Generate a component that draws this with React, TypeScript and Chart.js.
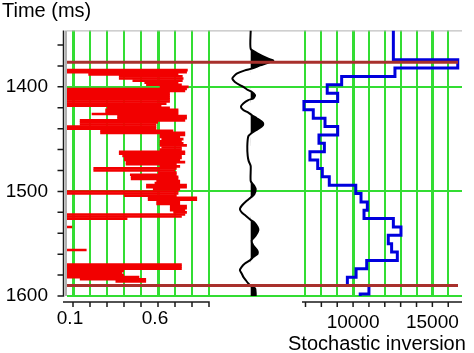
import React, { useEffect, useRef } from 'react';
import { Chart, registerables } from 'chart.js';

Chart.register(...registerables);

const FONT = '"Liberation Sans", Arial, Helvetica, sans-serif';
const GREEN = '#33dd33';
const RED = '#f20000';
const BLUE = '#0000dd';
const HORIZON = '#a8302c';

// ---- Time axis (ms) ----
const yTicks = [1360, 1380, 1400, 1420, 1440, 1460, 1480, 1500, 1520, 1540, 1560, 1580, 1600];
const yLabelled = [1400, 1500, 1600];
const horizons = [1376.5, 1590];

// ---- Left panel ----
const xLTicks = [0.1, 0.2, 0.3, 0.4, 0.5, 0.6, 0.7, 0.8, 0.9];
const xLLabelled = [0.1, 0.6];

// ---- Right panel (Stochastic inversion) ----
const xRTicks = [7000, 8000, 9000, 10000, 11000, 12000, 13000, 14000, 15000, 16000];
const xRLabelled = [10000, 15000];

// Red floating bars: time, start, end
const redTimes = [
  1384, 1386, 1388, 1390, 1392, 1394, 1396, 1398, 1400, 1402,
  1404, 1406, 1408, 1410, 1412, 1414, 1416, 1418, 1420, 1422,
  1424, 1426, 1428, 1430, 1432, 1434, 1436, 1438, 1440, 1442,
  1444, 1446, 1448, 1450, 1452, 1454, 1456, 1458, 1460, 1462,
  1464, 1466, 1468, 1470, 1472, 1474, 1476, 1478, 1480, 1482,
  1484, 1486, 1488, 1490, 1492, 1494, 1496, 1498, 1500, 1502,
  1504, 1506, 1508, 1510, 1512, 1514, 1516, 1518, 1520, 1522,
  1524, 1526, 1528, 1530, 1532, 1534, 1536, 1538, 1540, 1542,
  1544, 1546, 1548, 1550, 1552, 1554, 1556, 1558, 1560, 1562,
  1564, 1566, 1568, 1570, 1572, 1574, 1576, 1578, 1580, 1582,
  1584, 1586,
];
const redLow = [
  0, 0, 0.19, 0.37, 0.37, 0.45, 0.52, 0.53, 0.61, 0,
  0, 0, 0, 0, 0, 0, 0, 0, 0.3, 0.29,
  0.29, 0.21, 0.36, 0.36, 0.14, 0.14, 0.14, 0, 0, 0.26,
  0.26, 0.61, 0.61, 0.62, 0.61, 0.61, 0.61, 0.62, 0.61, 0.37,
  0.37, 0.39, 0.4, 0.4, 0.41, 0.41, 0.61, 0.22, 0.22, 0.6,
  0.435, 0.44, 0.44, 0.59, 0.58, 0.53, 0.53, 0.57, 0, 0,
  0.4, 0.54, 0.54, 0.59, 0.59, 0.67, 0.67, 0.67, 0.69, 0,
  0, 0, null, null, null, 0, null, null, null, null,
  null, null, null, null, null, null, 0, null, null, null,
  null, null, null, 0, 0, 0, 0, 0, 0, 0,
  0.14, 0.35,
];
const redHigh = [
  0.775, 0.77, 0.72, 0.745, 0.75, 0.745, 0.72, 0.74, 0.78, 0.77,
  0.76, 0.67, 0.67, 0.67, 0.67, 0.67, 0.65, 0.62, 0.67, 0.72,
  0.72, 0.72, 0.77, 0.77, 0.76, 0.6, 0.59, 0.59, 0.59, 0.69,
  0.76, 0.76, 0.73, 0.75, 0.74, 0.75, 0.77, 0.74, 0.74, 0.76,
  0.76, 0.74, 0.74, 0.73, 0.76, 0.71, 0.73, 0.71, 0.7, 0.71,
  0.71, 0.72, 0.72, 0.73, 0.73, 0.77, 0.77, 0.73, 0.72, 0.72,
  0.71, 0.83, 0.83, 0.73, 0.73, 0.77, 0.77, 0.76, 0.77, 0.76,
  0.74, 0.42, null, null, null, 0.095, null, null, null, null,
  null, null, null, null, null, null, 0.18, null, null, null,
  null, null, null, 0.74, 0.74, 0.74, 0.4, 0.39, 0.4, 0.49,
  0.53, 0.53,
];

// Seismic trace (wiggle): time, amplitude
const traceTimes = [
  1346, 1363.7, 1368.4, 1373.1, 1374.7, 1376.3, 1379.5, 1382.6, 1384.2, 1387.4,
  1390.5, 1392.1, 1395.3, 1398.4, 1400, 1403.2, 1404.7, 1407.9, 1411.1, 1412.6,
  1415.8, 1419, 1422.1, 1424.6, 1426.9, 1430, 1433.2, 1435.4, 1437.9, 1441.1,
  1444.2, 1447.4, 1456.9, 1466, 1471, 1475.8, 1490, 1494.8, 1497.9, 1502.7,
  1505.9, 1509, 1513.7, 1516.9, 1520.1, 1523.2, 1527.3, 1529.6, 1534.3, 1537.4,
  1542.2, 1546.9, 1551.7, 1556.4, 1559.5, 1562.7, 1565.9, 1569, 1572.2, 1575.4,
  1578.5, 1581.7, 1584.8, 1588, 1591.2, 1592.7, 1597.4, 1600,
];
const traceAmp = [
  0, 0, 0.38, 0.88, 1.13, 0.97, 0.47, 0.05, -0.29, -0.7,
  -0.87, -0.92, -0.79, -0.54, -0.37, -0.12, 0.05, 0.22, 0.13, -0.12,
  -0.37, -0.49, -0.37, -0.12, 0.05, 0.3, 0.55, 0.63, 0.55, 0.3,
  0.05, -0.12, -0.17, -0.15, -0.1, 0, 0, 0.18, 0.25, 0.18,
  0, -0.2, -0.45, -0.54, -0.45, -0.25, 0, 0.18, 0.35, 0.38,
  0.25, 0.05, 0.13, 0.33, 0.35, 0.13, -0.04, -0.29, -0.45, -0.54,
  -0.45, -0.37, -0.25, -0.12, 0.05, 0.22, 0.25, 0.25,
];

// Blocky stochastic inversion log: layer boundaries (ms) and values
const blueBounds = [
  1346, 1374, 1382, 1390, 1398, 1406, 1414, 1422, 1430, 1438, 1446,
  1454, 1462, 1470, 1478, 1486, 1494, 1502, 1510, 1518, 1526,
  1534, 1542, 1550, 1558, 1566, 1574, 1582, 1590, 1598, 1600,
];
const blueValues = [
  12540, 16600, 12640, 9280, 8370, 9030, 6900, 7490, 8230, 9030,
  7850, 8190, 7280, 7770, 8060, 8500, 10170, 10500, 10900, 10690,
  12540, 13020, 12220, 12430, 12790, 10860, 10190, 9640, 11000, 10450,
];

// scale windows so the three panels share one plot area
const XL_MIN = 0.0647, XL_MAX = 2.3882;
const XM_MIN = -9.185, XM_MAX = 10.565;
const XR_MIN = -8038, XR_MAX = 16868;

const decor = {
  id: 'decor',
  afterLayout(chart: any) {
    // both bottom axes share the same band below the plot
    const { xL, xR } = chart.scales;
    xR.top = xL.top;
    xR.bottom = xL.bottom;
    xR.height = xL.height;
  },
  beforeDatasetsDraw(chart: any) {
    const { ctx, chartArea: a } = chart;
    ctx.save();
    ctx.strokeStyle = '#b0b0b0';
    ctx.lineWidth = 2;
    ctx.beginPath();
    ctx.moveTo(a.left - 1, a.top);
    ctx.lineTo(a.left - 1, a.bottom);
    ctx.stroke();
    ctx.lineWidth = 1;
    ctx.beginPath();
    ctx.moveTo(a.left, a.top + 0.5);
    ctx.lineTo(a.right, a.top + 0.5);
    ctx.stroke();
    ctx.restore();
  },
  afterDatasetsDraw(chart: any) {
    const { ctx, chartArea: a, scales } = chart;
    ctx.save();
    ctx.strokeStyle = HORIZON;
    ctx.lineWidth = 3;
    for (const h of horizons) {
      const py = scales.y.getPixelForValue(h);
      ctx.beginPath();
      ctx.moveTo(a.left, py);
      ctx.lineTo(a.right - 4, py);
      ctx.stroke();
    }
    ctx.restore();
  },
  afterDraw(chart: any) {
    const { ctx, chartArea: a, scales } = chart;
    const y = scales.y, xL = scales.xL, xR = scales.xR;
    ctx.save();
    ctx.strokeStyle = '#1a1a1a';
    ctx.lineWidth = 1.5;
    // time axis
    const ax = a.left - 3.5;
    ctx.beginPath();
    ctx.moveTo(ax, a.top);
    ctx.lineTo(ax, a.bottom + 0.75);
    for (const v of yTicks) {
      const py = y.getPixelForValue(v);
      ctx.moveTo(ax - 6, py);
      ctx.lineTo(ax, py);
    }
    ctx.stroke();
    // bottom axes
    const ay = a.bottom + 6;
    ctx.beginPath();
    ctx.moveTo(xL.getPixelForValue(xLTicks[0]) - 10, ay);
    ctx.lineTo(xL.getPixelForValue(xLTicks[xLTicks.length - 1]) + 0.75, ay);
    for (const v of xLTicks) {
      const px = xL.getPixelForValue(v);
      ctx.moveTo(px, ay);
      ctx.lineTo(px, ay + 5);
    }
    ctx.moveTo(xR.getPixelForValue(xRTicks[0]) - 3.5, ay);
    ctx.lineTo(a.right, ay);
    for (const v of xRTicks) {
      const px = xR.getPixelForValue(v);
      ctx.moveTo(px, ay);
      ctx.lineTo(px, ay + 5);
    }
    ctx.stroke();
    // titles
    ctx.fillStyle = '#000';
    ctx.font = `20px ${FONT}`;
    ctx.textAlign = 'left';
    ctx.textBaseline = 'alphabetic';
    ctx.fillText('Time (ms)', 2, 17);
    ctx.fillText('Stochastic inversion', 288, 350);
    ctx.restore();
  },
};

export default function App() {
  const ref = useRef<HTMLCanvasElement>(null);

  useEffect(() => {
    const redData: any[] = [];
    redTimes.forEach((t, i) => {
      if (redLow[i] !== null && redHigh[i] !== null) redData.push({ y: t, x: [redLow[i], redHigh[i]] });
    });
    const traceData = traceTimes.map((t, i) => ({ y: t, x: traceAmp[i] }));
    const tracePos = traceTimes.map((t, i) => ({ y: t, x: Math.max(0, traceAmp[i]) }));
    const blueData: any[] = [];
    blueValues.forEach((v, i) => {
      blueData.push({ y: blueBounds[i], x: v });
      blueData.push({ y: blueBounds[i + 1], x: v });
    });

    const tickFont = { family: FONT, size: 19 };

    const chart = new Chart(ref.current as HTMLCanvasElement, {
      type: 'bar',
      data: {
        datasets: [
          {
            type: 'line',
            indexAxis: 'y',
            data: blueData,
            xAxisID: 'xR',
            yAxisID: 'y',
            borderColor: BLUE,
            borderWidth: 3,
            pointRadius: 0,
            fill: false,
            order: 1,
          } as any,
          {
            type: 'line',
            indexAxis: 'y',
            data: traceData,
            xAxisID: 'xM',
            yAxisID: 'y',
            borderColor: '#000',
            borderWidth: 2,
            pointRadius: 0,
            tension: 0.2,
            fill: false,
            order: 2,
          } as any,
          {
            type: 'line',
            indexAxis: 'y',
            data: tracePos,
            xAxisID: 'xM',
            yAxisID: 'y',
            borderWidth: 0,
            borderColor: 'rgba(0,0,0,0)',
            backgroundColor: '#000',
            pointRadius: 0,
            tension: 0.2,
            fill: { value: 0 },
            order: 3,
          } as any,
          {
            type: 'bar',
            indexAxis: 'y',
            data: redData,
            xAxisID: 'xL',
            yAxisID: 'y',
            backgroundColor: RED,
            borderWidth: 0,
            barPercentage: 1.25,
            categoryPercentage: 1,
            grouped: false,
            order: 4,
          } as any,
        ],
      },
      options: {
        responsive: false,
        animation: false,
        devicePixelRatio: 1,
        layout: { padding: { left: 0, right: 12, top: 28, bottom: 0 } },
        plugins: {
          legend: { display: false },
          tooltip: { enabled: false },
          title: { display: false },
        },
        scales: {
          y: {
            type: 'linear',
            position: 'left',
            reverse: true,
            min: 1346,
            max: 1600,
            offset: false,
            afterBuildTicks: (s: any) => { s.ticks = yTicks.map((v) => ({ value: v })); },
            afterFit: (s: any) => { s.width = 67; },
            grid: {
              color: (c: any) => (c.tick && yLabelled.includes(c.tick.value) ? GREEN : 'rgba(0,0,0,0)'),
              lineWidth: 2,
              drawTicks: false,
              offset: false,
            },
            border: { display: false },
            ticks: {
              callback: (v: any) => (yLabelled.includes(v) ? String(v) : ''),
              font: tickFont,
              color: '#000',
              padding: 19,
              autoSkip: false,
            },
          },
          xL: {
            type: 'linear',
            position: 'bottom',
            axis: 'x',
            weight: 0,
            min: XL_MIN,
            max: XL_MAX,
            offset: false,
            afterBuildTicks: (s: any) => { s.ticks = xLTicks.map((v) => ({ value: v })); },
            afterFit: (s: any) => { s.height = 57; },
            grid: {
              color: GREEN,
              lineWidth: (c: any) => (c.tick && xLLabelled.includes(c.tick.value) ? 3 : 2),
              drawTicks: false,
              offset: false,
            },
            border: { display: false },
            ticks: {
              callback: (v: any) => (xLLabelled.includes(v) ? String(v) : ''),
              font: tickFont,
              color: '#000',
              padding: 11,
              labelOffset: -3,
              maxRotation: 0,
              autoSkip: false,
            },
          },
          xM: {
            type: 'linear',
            position: 'bottom',
            axis: 'x',
            display: false,
            min: XM_MIN,
            max: XM_MAX,
            offset: false,
            grid: { display: false },
          },
          xR: {
            type: 'linear',
            position: 'bottom',
            axis: 'x',
            weight: 1,
            min: XR_MIN,
            max: XR_MAX,
            offset: false,
            afterBuildTicks: (s: any) => { s.ticks = xRTicks.map((v) => ({ value: v })); },
            afterFit: (s: any) => { s.height = 0; },
            grid: {
              color: GREEN,
              lineWidth: (c: any) => (c.tick && xRLabelled.includes(c.tick.value) ? 3 : 2),
              drawTicks: false,
              offset: false,
            },
            border: { display: false },
            ticks: {
              callback: (v: any) => (xRLabelled.includes(v) ? String(v) : ''),
              font: tickFont,
              color: '#000',
              padding: 15,
              maxRotation: 0,
              autoSkip: false,
            },
          },
        } as any,
      },
      plugins: [decor],
    } as any);

    return () => chart.destroy();
  }, []);

  return (
    <div style={{ position: 'fixed', left: 0, top: 0, width: 474, height: 353, background: '#fff' }}>
      <canvas ref={ref} width={474} height={353} style={{ width: 474, height: 353, display: 'block' }} />
    </div>
  );
}
